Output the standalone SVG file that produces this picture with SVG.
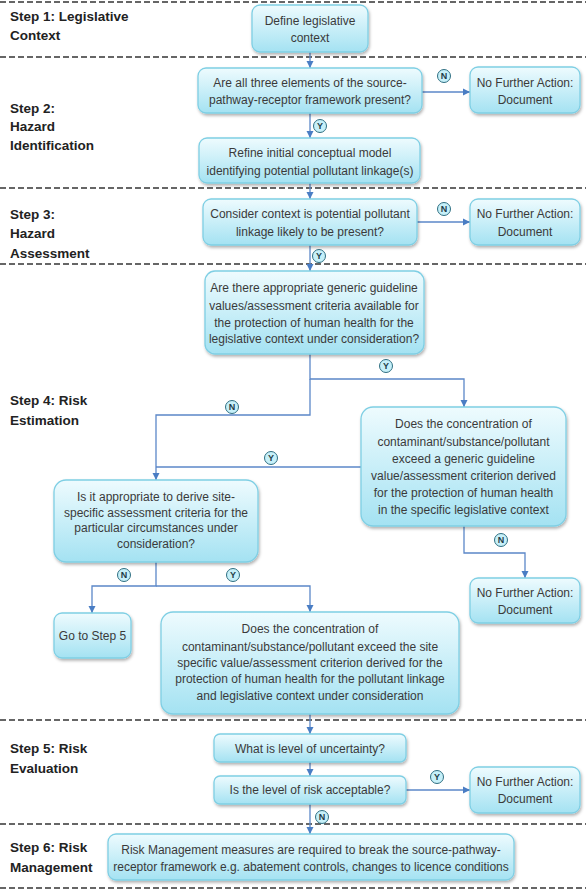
<svg xmlns="http://www.w3.org/2000/svg" width="586" height="892" viewBox="0 0 586 892">
<defs>
<linearGradient id="bg" x1="0" y1="0" x2="0" y2="1">
<stop offset="0" stop-color="#eefbfe"/>
<stop offset="1" stop-color="#a4e2f2"/>
</linearGradient>
<filter id="sh" x="-10%" y="-10%" width="120%" height="130%">
<feDropShadow dx="1" dy="2" stdDeviation="1.5" flood-color="#000" flood-opacity="0.3"/>
</filter>
<marker id="ah" markerWidth="8" markerHeight="8" refX="7" refY="4" orient="auto" markerUnits="userSpaceOnUse">
<path d="M0,0.5 L7,4 L0,7.5 z" fill="#4a7dc4"/>
</marker>
<style>
.box{fill:url(#bg);stroke:#7fcfe4;stroke-width:1.3;filter:url(#sh)}
.t{font-family:"Liberation Sans",Arial,sans-serif;font-size:12px;fill:#3a3a3a;text-anchor:middle}
.st{font-family:"Liberation Sans",Arial,sans-serif;font-size:13.5px;font-weight:bold;fill:#222}
.dl{stroke:#666;stroke-width:2;stroke-dasharray:6 3;fill:none}
.c{stroke:#5b87c8;stroke-width:1.3;fill:none}
.a{marker-end:url(#ah)}
.bb{fill:#c6f0f9;stroke:#2f6f82;stroke-width:1}
.bt{font-family:"Liberation Sans",Arial,sans-serif;font-size:9px;font-weight:bold;fill:#1e3d48;text-anchor:middle}
</style>
</defs>

<g id="dividers">
<line class="dl" x1="0" y1="2" x2="586" y2="2"/>
<line class="dl" x1="0" y1="57" x2="586" y2="57"/>
<line class="dl" x1="0" y1="188" x2="586" y2="188"/>
<line class="dl" x1="0" y1="264" x2="586" y2="264"/>
<line class="dl" x1="0" y1="720" x2="586" y2="720"/>
<line class="dl" x1="0" y1="824" x2="586" y2="824"/>
<line class="dl" x1="0" y1="888" x2="586" y2="888"/>
</g>

<g id="step-labels">
<text class="st" x="10" y="21">Step 1: Legislative</text>
<text class="st" x="10" y="40">Context</text>
<text class="st" x="10" y="113">Step 2:</text>
<text class="st" x="10" y="131">Hazard</text>
<text class="st" x="10" y="150">Identification</text>
<text class="st" x="10" y="219">Step 3:</text>
<text class="st" x="10" y="238">Hazard</text>
<text class="st" x="10" y="258">Assessment</text>
<text class="st" x="10" y="405">Step 4: Risk</text>
<text class="st" x="10" y="425">Estimation</text>
<text class="st" x="10" y="753">Step 5: Risk</text>
<text class="st" x="10" y="773">Evaluation</text>
<text class="st" x="10" y="852">Step 6: Risk</text>
<text class="st" x="10" y="872">Management</text>
</g>

<g id="connectors">
<path class="c a" d="M310,52 V68"/>
<path class="c a" d="M422,92 H470"/>
<path class="c a" d="M310,113 V138"/>
<path class="c a" d="M310,183 V199"/>
<path class="c a" d="M417,222 H470"/>
<path class="c a" d="M310,245 V271"/>
<path class="c a" d="M310,354 V379 H464 V407"/>
<path class="c a" d="M310,379 V415 H156 V480"/>
<path class="c" d="M361,467 H156"/>
<path class="c a" d="M464,526 V553 H525 V578"/>
<path class="c a" d="M156,562 V586 H92 V613"/>
<path class="c a" d="M156,586 H310 V612"/>
<path class="c a" d="M310,714 V734"/>
<path class="c a" d="M310,762 V776"/>
<path class="c a" d="M406,790 H470"/>
<path class="c a" d="M310,804 V834"/>
</g>

<g id="bubbles">
<g><circle class="bb" cx="444" cy="76" r="6.5"/><text class="bt" x="444" y="79.3">N</text></g>
<g><circle class="bb" cx="320" cy="126" r="6.5"/><text class="bt" x="320" y="129.3">Y</text></g>
<g><circle class="bb" cx="444" cy="209" r="6.5"/><text class="bt" x="444" y="212.3">N</text></g>
<g><circle class="bb" cx="319" cy="256" r="6.5"/><text class="bt" x="319" y="259.3">Y</text></g>
<g><circle class="bb" cx="386" cy="366" r="6.5"/><text class="bt" x="386" y="369.3">Y</text></g>
<g><circle class="bb" cx="232" cy="407" r="6.5"/><text class="bt" x="232" y="410.3">N</text></g>
<g><circle class="bb" cx="271" cy="458" r="6.5"/><text class="bt" x="271" y="461.3">Y</text></g>
<g><circle class="bb" cx="501" cy="540" r="6.5"/><text class="bt" x="501" y="543.3">N</text></g>
<g><circle class="bb" cx="124" cy="575" r="6.5"/><text class="bt" x="124" y="578.3">N</text></g>
<g><circle class="bb" cx="233" cy="575" r="6.5"/><text class="bt" x="233" y="578.3">Y</text></g>
<g><circle class="bb" cx="437" cy="777" r="6.5"/><text class="bt" x="437" y="780.3">Y</text></g>
<g><circle class="bb" cx="322" cy="817" r="6.5"/><text class="bt" x="322" y="820.3">N</text></g>
</g>

<g id="n-define">
<rect class="box" x="252" y="5" width="116" height="47" rx="8"/>
<text class="t" x="310" y="25">Define legislative</text>
<text class="t" x="310" y="42">context</text>
</g>
<g id="n-elements">
<rect class="box" x="198" y="68" width="224" height="45" rx="8"/>
<text class="t" x="310" y="87">Are all three elements of the source-</text>
<text class="t" x="310" y="104">pathway-receptor framework present?</text>
</g>
<g id="n-nfa1">
<rect class="box" x="470" y="67" width="110" height="46" rx="8"/>
<text class="t" x="525" y="87">No Further Action:</text>
<text class="t" x="525" y="104">Document</text>
</g>
<g id="n-refine">
<rect class="box" x="199" y="138" width="221" height="45" rx="8"/>
<text class="t" x="310" y="157">Refine initial conceptual model</text>
<text class="t" x="310" y="175">identifying potential pollutant linkage(s)</text>
</g>
<g id="n-consider">
<rect class="box" x="203" y="199" width="214" height="46" rx="8"/>
<text class="t" x="310" y="218">Consider context is potential pollutant</text>
<text class="t" x="310" y="236">linkage likely to be present?</text>
</g>
<g id="n-nfa2">
<rect class="box" x="470" y="199" width="110" height="46" rx="8"/>
<text class="t" x="525" y="218">No Further Action:</text>
<text class="t" x="525" y="236">Document</text>
</g>
<g id="n-generic">
<rect class="box" x="205" y="271" width="219" height="83" rx="10"/>
<text class="t" x="314" y="292">Are there appropriate generic guideline</text>
<text class="t" x="314" y="310">values/assessment criteria available for</text>
<text class="t" x="314" y="327">the protection of human health for the</text>
<text class="t" x="314" y="343">legislative context under consideration?</text>
</g>
<g id="n-exceed-generic">
<rect class="box" x="361" y="407" width="205" height="119" rx="12"/>
<text class="t" x="463.5" y="428">Does the concentration of</text>
<text class="t" x="463.5" y="446">contaminant/substance/pollutant</text>
<text class="t" x="463.5" y="463">exceed a generic guideline</text>
<text class="t" x="463.5" y="480">value/assessment criterion derived</text>
<text class="t" x="463.5" y="497">for the protection of human health</text>
<text class="t" x="463.5" y="514">in the specific legislative context</text>
</g>
<g id="n-site-specific">
<rect class="box" x="54" y="480" width="204" height="82" rx="12"/>
<text class="t" x="156" y="501">Is it appropriate to derive site-</text>
<text class="t" x="156" y="517">specific assessment criteria for the</text>
<text class="t" x="156" y="532">particular circumstances under</text>
<text class="t" x="156" y="548">consideration?</text>
</g>
<g id="n-nfa3">
<rect class="box" x="470" y="578" width="110" height="45" rx="8"/>
<text class="t" x="525" y="597">No Further Action:</text>
<text class="t" x="525" y="614">Document</text>
</g>
<g id="n-goto5">
<rect class="box" x="54" y="613" width="77" height="45" rx="8"/>
<text class="t" x="92.5" y="640">Go to Step 5</text>
</g>
<g id="n-exceed-site">
<rect class="box" x="161" y="612" width="298" height="102" rx="12"/>
<text class="t" x="310" y="633">Does the concentration of</text>
<text class="t" x="310" y="651">contaminant/substance/pollutant exceed the site</text>
<text class="t" x="310" y="667">specific value/assessment criterion derived for the</text>
<text class="t" x="310" y="683">protection of human health for the pollutant linkage</text>
<text class="t" x="310" y="700">and legislative context under consideration</text>
</g>
<g id="n-uncertainty">
<rect class="box" x="214" y="734" width="192" height="28" rx="6"/>
<text class="t" x="310" y="753">What is level of uncertainty?</text>
</g>
<g id="n-acceptable">
<rect class="box" x="214" y="776" width="192" height="28" rx="6"/>
<text class="t" x="310" y="794">Is the level of risk acceptable?</text>
</g>
<g id="n-nfa4">
<rect class="box" x="470" y="767" width="110" height="46" rx="8"/>
<text class="t" x="525" y="786">No Further Action:</text>
<text class="t" x="525" y="803">Document</text>
</g>
<g id="n-risk-management">
<rect class="box" x="108" y="834" width="406" height="46" rx="8"/>
<text class="t" x="311" y="854">Risk Management measures are required to break the source-pathway-</text>
<text class="t" x="311" y="871">receptor framework e.g. abatement controls, changes to licence conditions</text>
</g>
</svg>
